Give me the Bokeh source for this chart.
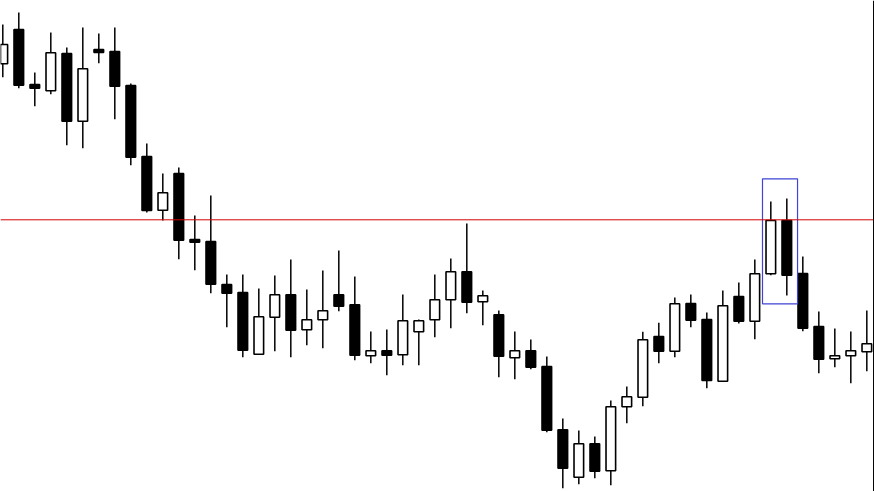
from bokeh.plotting import figure
from bokeh.models import Span, ColumnDataSource
from bokeh.embed import file_html
from bokeh.resources import INLINE

# OHLC (price units are arbitrary, higher = up)
opens = [436.7, 471, 416, 409.7, 447, 379.3, 451, 449, 415, 344,
         290.3, 327, 261, 259, 216, 208, 146.3, 183.3, 205.7, 170.7,
         180.7, 205.7, 195.7, 144.7, 149.7, 145.7, 168.7, 180.7, 200.7, 228.7,
         198.7, 185.7, 142.7, 149.7, 134, 70.7, 23.3, 56.7, 29.7, 93.7,
         103.3, 164, 149.3, 197, 181, 119.3, 204, 179.3, 226.7, 280,
         227, 174, 141.7, 144.7, 148.7]
highs = [476, 488, 428, 468, 453, 473, 467, 473, 417, 357,
         327, 333, 285, 305, 226, 226, 212, 225, 241, 211,
         230, 250, 224, 169, 171, 206, 181, 226, 242, 277,
         210, 190, 169, 161, 144, 82, 70, 64, 100, 114,
         168.7, 177.7, 203, 206, 188, 210, 218, 241, 299, 302,
         244, 189, 172, 169, 190]
lows = [423.3, 412.3, 394.3, 406.3, 355.3, 352.3, 437.3, 381.3, 335.3, 288,
        280, 241.3, 230.3, 207.3, 173.3, 143.3, 146.3, 149.3, 143.3, 155.3,
        152.3, 189.3, 140.3, 137.3, 125.3, 135.3, 135.3, 163.3, 172.3, 187.3,
        175.3, 123.3, 121.3, 131.3, 68.3, 12.3, 16.3, 22.3, 15.3, 77.3,
        94.3, 137.3, 143.3, 173.3, 112.3, 118.7, 177, 161.3, 225.3, 205,
        169.3, 127.3, 133.3, 117.3, 129.3]
closes = [456, 415.3, 412.3, 447.7, 379.3, 431.7, 448, 414.3, 343.3, 290,
          307.7, 260.3, 258.3, 216.3, 207.3, 150.3, 183.7, 205.7, 170.3, 180.7,
          189.7, 194.3, 145.3, 149.7, 145.3, 179.7, 179.7, 200.7, 228.7, 198.3,
          204.7, 144.3, 149.7, 133.3, 70.3, 32.3, 56.7, 29.3, 93.7, 103.7,
          160.7, 149.3, 196.7, 180.3, 120, 194.7, 179.3, 226.7, 280, 225.3,
          172.3, 141.3, 144.7, 149.7, 156.7]

level = 280.7               # horizontal line
box_bars = [48, 49]         # candles inside the blue box
box_low, box_high = 196.7, 321.7


def main():
    idx = list(range(len(opens)))
    src = ColumnDataSource(dict(
        x=idx, high=highs, low=lows,
        top=[max(o, c) for o, c in zip(opens, closes)],
        bottom=[min(o, c) for o, c in zip(opens, closes)],
        fill=["white" if c > o else "black" for o, c in zip(opens, closes)],
    ))

    p = figure(width=874, height=491, x_range=(-0.144, 54.48), y_range=(9, 500),
               x_axis_location=None, y_axis_location=None,
               toolbar_location=None, output_backend="svg", min_border=0)
    p.grid.visible = False
    p.outline_line_color = None
    p.background_fill_color = "white"

    p.segment("x", "high", "x", "low", source=src, line_color="black", line_width=1.5)
    p.vbar("x", 0.6, "top", "bottom", source=src, fill_color="fill",
           line_color="black", line_width=1.6)

    p.add_layout(Span(location=level, dimension="width",
                      line_color="#d40000", line_width=1))
    p.quad(left=box_bars[0] - 0.52, right=box_bars[1] + 0.67,
           bottom=box_low, top=box_high, fill_color=None,
           line_color="#3f44d4", line_width=1.2)
    p.add_layout(Span(location=54.45, dimension="height",
                      line_color="black", line_width=2))

    open("out.html", "w").write(file_html(p, INLINE))


if __name__ == "__main__":
    main()
